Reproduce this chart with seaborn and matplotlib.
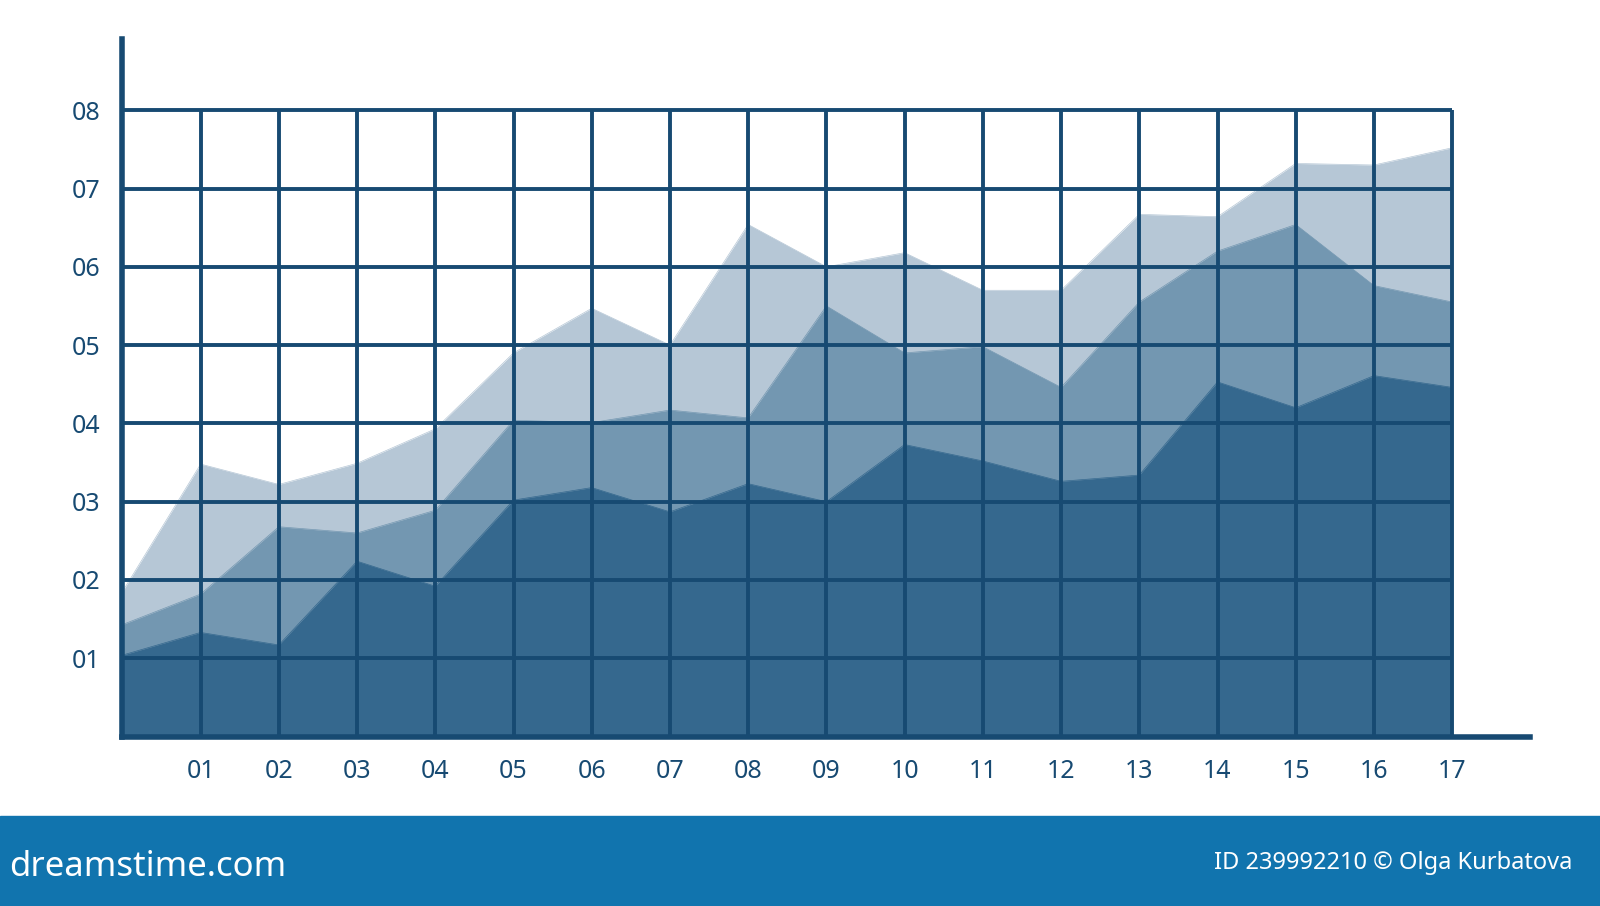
import matplotlib
matplotlib.use("Agg")
import matplotlib.pyplot as plt
import seaborn as sns
import numpy as np

sns.set_style("white")
plt.rcParams['font.family'] = ['Noto Sans', 'DejaVu Sans']

x = list(range(18))
dark = [1.04, 1.33, 1.17, 2.24, 1.92, 3.02, 3.18, 2.87, 3.23, 3.0, 3.73, 3.52, 3.26, 3.34, 4.53, 4.2, 4.61, 4.46]
mid = [1.43, 1.82, 2.68, 2.6, 2.89, 4.04, 4.01, 4.17, 4.07, 5.5, 4.9, 4.98, 4.46, 5.55, 6.2, 6.54, 5.76, 5.55]
light = [1.85, 3.48, 3.22, 3.49, 3.93, 4.9, 5.47, 5.0, 6.54, 6.0, 6.18, 5.7, 5.7, 6.67, 6.64, 7.32, 7.3, 7.52]
xticks = [f"{i:02d}" for i in range(1, 18)]
yticks = [f"{i:02d}" for i in range(1, 9)]

fig = plt.figure(figsize=(16, 9.06), dpi=100)
ax = fig.add_axes([0.0765, 0.187, 0.880, 0.770])
gridc = "#174a72"
for vals, col in [(light, "#b6c7d6"), (mid, "#7397b1"), (dark, "#35688e")]:
    ax.fill_between(x, 0, vals, color=col, lw=0, zorder=1)
    sns.lineplot(x=x, y=vals, color=col, lw=0.5, ax=ax, zorder=1)
ax.vlines(range(1, 18), 0, 8, color=gridc, lw=2.8, zorder=3)
ax.hlines(range(1, 9), 0, 17, color=gridc, lw=2.8, zorder=3)
ax.set_xlim(0, 18)
ax.set_ylim(0, 8.91)
for s in ["top", "right"]:
    ax.spines[s].set_visible(False)
for s in ["left", "bottom"]:
    ax.spines[s].set_color(gridc)
    ax.spines[s].set_linewidth(4)
ax.set_xticks(range(1, 18))
ax.set_xticklabels(xticks)
ax.set_yticks(range(1, 9))
ax.set_yticklabels(yticks)
ax.tick_params(length=0, labelsize=18, labelcolor=gridc, pad=16)

# banner
fig.patches.append(plt.Rectangle((0, 0), 1, 88/888, transform=fig.transFigure,
                                 color="#1174ae", zorder=0))
fig.text(0.006, 38/888, "dreamstime.com", color="white", fontsize=25, va="center")
fig.text(0.983, 42/888, "ID 239992210 © Olga Kurbatova", color="white", fontsize=17,
         fontweight="bold", va="center", ha="right")
fig.savefig("out.png", dpi=100, facecolor="white")
